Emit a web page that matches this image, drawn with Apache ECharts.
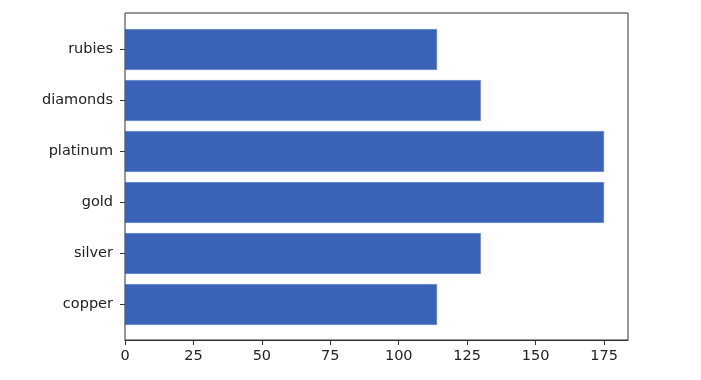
<!DOCTYPE html>
<html>
<head>
<meta charset="utf-8">
<script src="https://cdn.jsdelivr.net/npm/echarts@6/dist/echarts.min.js"></script>
<style>html,body{margin:0;padding:0;background:#fff;}#c{width:701px;height:380px;}</style>
</head>
<body>
<div id="c"></div>
<script>
var categories = ['copper', 'silver', 'gold', 'platinum', 'diamonds', 'rubies'];
var values = [114, 130, 175, 175, 130, 114];
var xTicks = [0, 25, 50, 75, 100, 125, 150, 175];

var chart = echarts.init(document.getElementById('c'), null, {renderer: 'canvas'});
var font = {fontFamily: 'DejaVu Sans', fontSize: 14.5, color: '#222'};
var xMax = 183.75;
chart.setOption({
  animation: false,
  backgroundColor: '#fff',
  grid: [
    {left: 125, right: 73, top: 13, bottom: 40, show: true, borderColor: '#333', borderWidth: 1, backgroundColor: 'transparent', z: 5},
    {left: 125, right: 73, top: 24, bottom: 50}
  ],
  xAxis: [
    {type: 'value', gridIndex: 0, min: 0, max: xMax, interval: 25,
     axisLine: {show: true, onZero: false, lineStyle: {color: '#333', width: 1}},
     axisTick: {show: true, length: 5, lineStyle: {color: '#333'}},
     axisLabel: Object.assign({margin: 9, showMaxLabel: false,
       formatter: function (v) { return xTicks.indexOf(v) >= 0 ? String(v) : ''; }}, font),
     splitLine: {show: false}},
    {type: 'value', gridIndex: 1, min: 0, max: xMax, show: false}
  ],
  yAxis: [
    {type: 'value', gridIndex: 0, show: false, min: 0, max: 1},
    {type: 'category', gridIndex: 1, data: categories,
     axisLine: {show: false},
     axisTick: {show: true, alignWithLabel: true, length: 5, lineStyle: {color: '#333'}},
     axisLabel: Object.assign({margin: 12}, font),
     splitLine: {show: false}}
  ],
  series: [{
    type: 'bar', xAxisIndex: 1, yAxisIndex: 1,
    data: values, barCategoryGap: '20%',
    itemStyle: {color: '#3a62b7', borderColor: '#6f8fd4', borderWidth: 0.5}
  }]
});
</script>
</body>
</html>
